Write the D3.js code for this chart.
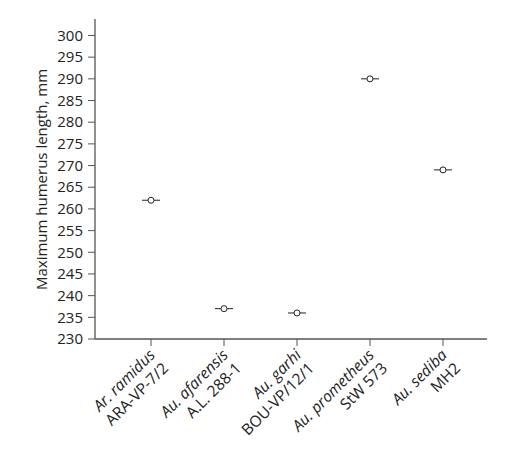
<!DOCTYPE html>
<html><head><meta charset="utf-8">
<script src="https://cdn.jsdelivr.net/npm/d3@7"></script>
<style>body{margin:0;background:#fff}svg{display:block}text{font-family:"Open Sans","Noto Sans",sans-serif}</style>
</head><body><svg id="c" width="520" height="471"></svg>
<script>
const species = ["Ar. ramidus","Au. afarensis","Au. garhi","Au. prometheus","Au. sediba"];
const specimens = ["ARA-VP-7/2","A.L. 288-1","BOU-VP/12/1","StW 573","MH2"];
const lengths = [262, 237, 236, 290, 269];
const yTicks = [230,235,240,245,250,255,260,265,270,275,280,285,290,295,300];
const yLabel = "Maximum humerus length, mm";

const svg = d3.select("#c");
const axisColor = "#555";
const fs = 15;
const x = d3.scalePoint().domain(species).range([151, 443]);
const y = d3.scaleLinear().domain([230, 303.8]).range([339, 19]);

// axes lines
svg.append("line").attr("x1",95).attr("x2",95).attr("y1",y(303.8)).attr("y2",y(230)).attr("stroke",axisColor).attr("stroke-width",1.3);
svg.append("line").attr("x1",95).attr("x2",487).attr("y1",y(230)).attr("y2",y(230)).attr("stroke",axisColor).attr("stroke-width",1.3);

// y ticks
const yg = svg.append("g");
yTicks.forEach(t => {
  yg.append("line").attr("x1",88).attr("x2",95).attr("y1",y(t)).attr("y2",y(t)).attr("stroke",axisColor).attr("stroke-width",1);
  yg.append("text").attr("x",83).attr("y",y(t)).attr("dy","0.35em").attr("text-anchor","end")
    .attr("font-size",fs).attr("fill","#222").text(t);
});
svg.append("text").attr("transform",`translate(47,${(72+287)/2}) rotate(-90)`).attr("text-anchor","middle")
  .attr("font-size",fs).attr("fill","#222").text(yLabel);

// x ticks & labels
species.forEach((s,i) => {
  const cx = x(s);
  svg.append("line").attr("x1",cx).attr("x2",cx).attr("y1",y(230)).attr("y2",y(230)+7).attr("stroke",axisColor).attr("stroke-width",1);
  const t = svg.append("text").attr("transform",`translate(${cx+5},${356}) rotate(-45)`).attr("text-anchor","end")
    .attr("font-size",15.5).attr("fill","#222");
  t.append("tspan").attr("x",0).attr("dy",0).attr("font-style","italic").text(s);
  t.append("tspan").attr("x",0).attr("dy","1.2em").text(specimens[i]);
});

// markers
const m = svg.append("g").selectAll("g").data(species).join("g");
m.append("line").attr("x1",d=>x(d)-9).attr("x2",d=>x(d)+9).attr("y1",(d,i)=>y(lengths[i])).attr("y2",(d,i)=>y(lengths[i]))
  .attr("stroke","#222").attr("stroke-width",1);
m.append("circle").attr("cx",d=>x(d)).attr("cy",(d,i)=>y(lengths[i])).attr("r",3)
  .attr("fill","#fff").attr("stroke","#222").attr("stroke-width",1);
</script></body></html>
